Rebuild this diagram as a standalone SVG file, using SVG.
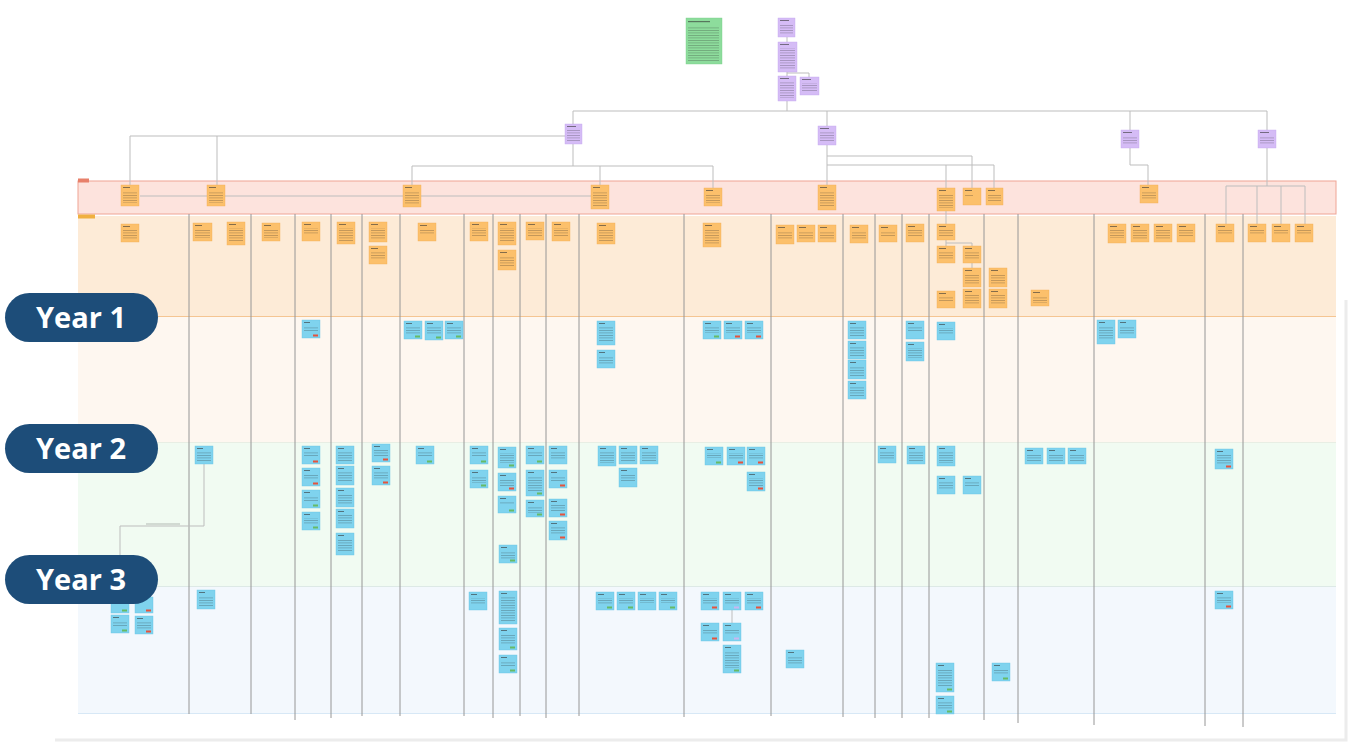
<svg xmlns="http://www.w3.org/2000/svg" width="1358" height="751" viewBox="0 0 1358 751">
<defs>
<pattern id="tx" width="20" height="2.5" patternUnits="userSpaceOnUse"><rect x="0" y="0" width="20" height="0.6" fill="#222" opacity="0.4"/></pattern>
<style>
.o{fill:#fcc06b;stroke:#f2ad55;stroke-width:0.4}
.p{fill:#d5bcf6;stroke:#c3a6ee;stroke-width:0.4}
.b{fill:#7fd3ee;stroke:#66c4e3;stroke-width:0.4}
.g{fill:#8ddc9c;stroke:#77cc88;stroke-width:0.4}
.t{fill:url(#tx)}
.h{fill:#333;opacity:.6}
.tr{fill:#e5533d}
.tg{fill:#66bb66}
.c{fill:none;stroke:#bdbdbd;stroke-width:1}
.v{stroke:#969696;stroke-width:1}
.pill{fill:#1d4d79}
.yt{font-family:"Open Sans","Liberation Sans",sans-serif;font-weight:700;font-size:29px;fill:#fff;text-anchor:middle}
</style>
</defs>
<rect width="1358" height="751" fill="#fff"/>
<path d="M55 740 H1346 V300" fill="none" stroke="#ececec" stroke-width="3"/>
<g id="bands">
<rect x="78" y="181" width="1258" height="33" fill="#fde3dd" stroke="#efa494" stroke-width="1"/>
<rect x="78" y="178.5" width="11" height="4" fill="#e8806a"/>
<rect x="78" y="216" width="1258" height="100" fill="#fdebd7"/>
<rect x="78" y="214.5" width="17" height="4" fill="#f0b040"/>
<line x1="78" y1="316.5" x2="1336" y2="316.5" stroke="#f5c592" stroke-width="1"/>
<rect x="78" y="317" width="1258" height="125" fill="#fef7f0"/>
<rect x="78" y="442" width="1258" height="144" fill="#f1fbf2"/>
<line x1="78" y1="442.5" x2="1336" y2="442.5" stroke="#e8eee4" stroke-width="1"/>
<rect x="78" y="586" width="1258" height="127" fill="#f3f8fd"/>
<line x1="78" y1="586.5" x2="1336" y2="586.5" stroke="#dde9e6" stroke-width="1"/>
<line x1="78" y1="713.5" x2="1336" y2="713.5" stroke="#d7e8f6" stroke-width="1"/>
</g>
<g id="columns">
<line class="v" x1="189" y1="214" x2="189" y2="714"/>
<line class="v" x1="251" y1="214" x2="251" y2="714"/>
<line class="v" x1="295" y1="214" x2="295" y2="720"/>
<line class="v" x1="331" y1="214" x2="331" y2="718"/>
<line class="v" x1="362" y1="214" x2="362" y2="716"/>
<line class="v" x1="400" y1="214" x2="400" y2="716"/>
<line class="v" x1="464" y1="214" x2="464" y2="716"/>
<line class="v" x1="493" y1="214" x2="493" y2="718"/>
<line class="v" x1="520" y1="214" x2="520" y2="716"/>
<line class="v" x1="546" y1="214" x2="546" y2="718"/>
<line class="v" x1="579" y1="214" x2="579" y2="716"/>
<line class="v" x1="684" y1="214" x2="684" y2="717"/>
<line class="v" x1="771" y1="214" x2="771" y2="716"/>
<line class="v" x1="843" y1="214" x2="843" y2="717"/>
<line class="v" x1="875" y1="214" x2="875" y2="718"/>
<line class="v" x1="902" y1="214" x2="902" y2="718"/>
<line class="v" x1="929" y1="214" x2="929" y2="718"/>
<line class="v" x1="984" y1="214" x2="984" y2="720"/>
<line class="v" x1="1018" y1="214" x2="1018" y2="723"/>
<line class="v" x1="1094" y1="214" x2="1094" y2="725"/>
<line class="v" x1="1205" y1="214" x2="1205" y2="726"/>
<line class="v" x1="1243" y1="214" x2="1243" y2="727"/>
</g>
<g id="connectors">
<path class="c" d="M787 37 V42 M787 72 V76 M787 73 H809 V77 M787 101 V111"/>
<path class="c" d="M573 124 V111 H1267 V130 M827 111 V126 M1130 111 V130"/>
<path class="c" d="M565 136 H130 V186 M217 136 V186"/>
<path class="c" d="M573 144 V166 H713 V188 M600 166 V185 M573 166 H412 V186"/>
<path class="c" d="M140 196 H592"/>
<path class="c" d="M827 145 V185 M827 156 H972 V188 M827 165 H994 V188 M946 165 V188"/>
<path class="c" d="M1130 148 V165 H1148 V185"/>
<path class="c" d="M1267 148 V186 M1226 224 V186 H1305 V224 M1257 186 V224 M1281 186 V224"/>
<path class="c" d="M946 211 V224 M946 240 V246 M946 243 H972 V246 M972 263 V268"/>
<path class="c" d="M204 464 V526 H120 V560"/>
<rect x="146" y="523.5" width="34" height="1" fill="#777" opacity=".5"/>
<path class="c" d="M732 610 V623"/>
</g>
<g id="top">
<g id="green1"><rect class="g" x="686" y="18" width="36" height="46"/><rect class="h" x="688" y="21" width="22" height="1.2"/><rect class="t" x="688" y="26" width="31" height="35"/></g>
<g id="pu1"><rect class="p" x="778" y="18" width="17" height="19"/><rect class="h" x="780" y="20" width="9" height="1"/><rect class="t" x="780" y="24" width="13" height="10"/></g>
<g id="pu2"><rect class="p" x="778" y="42" width="19" height="30"/><rect class="h" x="780" y="44" width="9" height="1"/><rect class="t" x="780" y="48" width="15" height="21"/></g>
<g id="pu3"><rect class="p" x="778" y="76" width="18" height="25"/><rect class="h" x="780" y="78" width="9" height="1"/><rect class="t" x="780" y="82" width="14" height="16"/></g>
<g id="pu4"><rect class="p" x="800" y="77" width="19" height="18"/><rect class="h" x="802" y="79" width="9" height="1"/><rect class="t" x="802" y="83" width="15" height="8"/></g>
<g id="pu5"><rect class="p" x="565" y="124" width="17" height="20"/><rect class="h" x="567" y="126" width="9" height="1"/><rect class="t" x="567" y="130" width="13" height="11"/></g>
<g id="pu6"><rect class="p" x="818" y="126" width="18" height="19"/><rect class="h" x="820" y="128" width="9" height="1"/><rect class="t" x="820" y="132" width="14" height="10"/></g>
<g id="pu7"><rect class="p" x="1121" y="130" width="18" height="18"/><rect class="h" x="1123" y="132" width="9" height="1"/><rect class="t" x="1123" y="136" width="14" height="9"/></g>
<g id="pu8"><rect class="p" x="1258" y="130" width="18" height="18"/><rect class="h" x="1260" y="132" width="9" height="1"/><rect class="t" x="1260" y="136" width="14" height="9"/></g>
</g>
<g id="goals">
<g id="r1"><rect class="o" x="121" y="185" width="18" height="21"/><rect class="h" x="123" y="187" width="7" height="1"/><rect class="t" x="123" y="191" width="14" height="12"/></g>
<g id="r2"><rect class="o" x="207" y="185" width="18" height="21"/><rect class="h" x="209" y="187" width="7" height="1"/><rect class="t" x="209" y="191" width="14" height="12"/></g>
<g id="r3"><rect class="o" x="403" y="185" width="18" height="22"/><rect class="h" x="405" y="187" width="7" height="1"/><rect class="t" x="405" y="191" width="14" height="13"/></g>
<g id="r4"><rect class="o" x="591" y="185" width="18" height="24"/><rect class="h" x="593" y="187" width="7" height="1"/><rect class="t" x="593" y="191" width="14" height="15"/></g>
<g id="r5"><rect class="o" x="704" y="188" width="18" height="18"/><rect class="h" x="706" y="190" width="7" height="1"/><rect class="t" x="706" y="194" width="14" height="9"/></g>
<g id="r6"><rect class="o" x="818" y="185" width="18" height="25"/><rect class="h" x="820" y="187" width="7" height="1"/><rect class="t" x="820" y="191" width="14" height="16"/></g>
<g id="r7"><rect class="o" x="937" y="188" width="18" height="23"/><rect class="h" x="939" y="190" width="7" height="1"/><rect class="t" x="939" y="194" width="14" height="14"/></g>
<g id="r8"><rect class="o" x="963" y="188" width="18" height="17"/><rect class="h" x="965" y="190" width="7" height="1"/><rect class="t" x="965" y="194" width="8" height="2"/></g>
<g id="r9"><rect class="o" x="986" y="188" width="17" height="17"/><rect class="h" x="988" y="190" width="7" height="1"/><rect class="t" x="988" y="194" width="13" height="7"/></g>
<g id="r10"><rect class="o" x="1140" y="185" width="18" height="18"/><rect class="h" x="1142" y="187" width="7" height="1"/><rect class="t" x="1142" y="191" width="14" height="9"/></g>
</g>
<g id="objectives">
<g id="a1"><rect class="o" x="121" y="224" width="18" height="18"/><rect class="h" x="123" y="226" width="7" height="1"/><rect class="t" x="123" y="230" width="14" height="9"/></g>
<g id="a2"><rect class="o" x="193" y="223" width="19" height="18"/><rect class="h" x="195" y="225" width="7" height="1"/><rect class="t" x="195" y="229" width="15" height="9"/></g>
<g id="a3"><rect class="o" x="227" y="222" width="18" height="23"/><rect class="h" x="229" y="224" width="7" height="1"/><rect class="t" x="229" y="228" width="14" height="14"/></g>
<g id="a4"><rect class="o" x="262" y="223" width="18" height="18"/><rect class="h" x="264" y="225" width="7" height="1"/><rect class="t" x="264" y="229" width="14" height="9"/></g>
<g id="a5"><rect class="o" x="302" y="222" width="18" height="19"/><rect class="h" x="304" y="224" width="7" height="1"/><rect class="t" x="304" y="228" width="14" height="6"/></g>
<g id="a6"><rect class="o" x="337" y="222" width="18" height="22"/><rect class="h" x="339" y="224" width="7" height="1"/><rect class="t" x="339" y="228" width="14" height="13"/></g>
<g id="a7"><rect class="o" x="369" y="222" width="18" height="20"/><rect class="h" x="371" y="224" width="7" height="1"/><rect class="t" x="371" y="228" width="14" height="11"/></g>
<g id="a8"><rect class="o" x="369" y="246" width="18" height="18"/><rect class="h" x="371" y="248" width="7" height="1"/><rect class="t" x="371" y="252" width="14" height="8"/></g>
<g id="a9"><rect class="o" x="418" y="223" width="18" height="18"/><rect class="h" x="420" y="225" width="7" height="1"/><rect class="t" x="420" y="229" width="14" height="6"/></g>
<g id="a10"><rect class="o" x="470" y="222" width="18" height="19"/><rect class="h" x="472" y="224" width="7" height="1"/><rect class="t" x="472" y="228" width="14" height="8"/></g>
<g id="a11"><rect class="o" x="498" y="222" width="18" height="23"/><rect class="h" x="500" y="224" width="7" height="1"/><rect class="t" x="500" y="228" width="14" height="14"/></g>
<g id="a12"><rect class="o" x="498" y="250" width="18" height="20"/><rect class="h" x="500" y="252" width="7" height="1"/><rect class="t" x="500" y="256" width="14" height="10"/></g>
<g id="a13"><rect class="o" x="526" y="222" width="18" height="18"/><rect class="h" x="528" y="224" width="7" height="1"/><rect class="t" x="528" y="228" width="14" height="9"/></g>
<g id="a14"><rect class="o" x="552" y="222" width="18" height="19"/><rect class="h" x="554" y="224" width="7" height="1"/><rect class="t" x="554" y="228" width="14" height="9"/></g>
<g id="a15"><rect class="o" x="597" y="223" width="18" height="21"/><rect class="h" x="599" y="225" width="7" height="1"/><rect class="t" x="599" y="229" width="14" height="12"/></g>
<g id="a16"><rect class="o" x="703" y="223" width="18" height="24"/><rect class="h" x="705" y="225" width="7" height="1"/><rect class="t" x="705" y="229" width="14" height="15"/></g>
<g id="a17"><rect class="o" x="776" y="225" width="18" height="19"/><rect class="h" x="778" y="227" width="7" height="1"/><rect class="t" x="778" y="231" width="14" height="8"/></g>
<g id="a18"><rect class="o" x="797" y="225" width="18" height="17"/><rect class="h" x="799" y="227" width="7" height="1"/><rect class="t" x="799" y="231" width="14" height="8"/></g>
<g id="a19"><rect class="o" x="818" y="225" width="18" height="17"/><rect class="h" x="820" y="227" width="7" height="1"/><rect class="t" x="820" y="231" width="14" height="8"/></g>
<g id="a20"><rect class="o" x="850" y="225" width="18" height="18"/><rect class="h" x="852" y="227" width="7" height="1"/><rect class="t" x="852" y="231" width="14" height="9"/></g>
<g id="a21"><rect class="o" x="879" y="225" width="18" height="17"/><rect class="h" x="881" y="227" width="7" height="1"/><rect class="t" x="881" y="231" width="14" height="6"/></g>
<g id="a22"><rect class="o" x="906" y="224" width="18" height="18"/><rect class="h" x="908" y="226" width="7" height="1"/><rect class="t" x="908" y="230" width="14" height="6"/></g>
<g id="a23"><rect class="o" x="937" y="224" width="18" height="16"/><rect class="h" x="939" y="226" width="7" height="1"/><rect class="t" x="939" y="230" width="14" height="7"/></g>
<g id="a24"><rect class="o" x="937" y="246" width="18" height="17"/><rect class="h" x="939" y="248" width="7" height="1"/><rect class="t" x="939" y="252" width="14" height="8"/></g>
<g id="a25"><rect class="o" x="963" y="246" width="18" height="17"/><rect class="h" x="965" y="248" width="7" height="1"/><rect class="t" x="965" y="252" width="14" height="8"/></g>
<g id="a26"><rect class="o" x="963" y="268" width="18" height="19"/><rect class="h" x="965" y="270" width="7" height="1"/><rect class="t" x="965" y="274" width="14" height="10"/></g>
<g id="a27"><rect class="o" x="989" y="268" width="18" height="19"/><rect class="h" x="991" y="270" width="7" height="1"/><rect class="t" x="991" y="274" width="14" height="10"/></g>
<g id="a28"><rect class="o" x="937" y="291" width="18" height="17"/><rect class="h" x="939" y="293" width="7" height="1"/><rect class="t" x="939" y="297" width="14" height="5"/></g>
<g id="a29"><rect class="o" x="963" y="289" width="18" height="19"/><rect class="h" x="965" y="291" width="7" height="1"/><rect class="t" x="965" y="295" width="14" height="10"/></g>
<g id="a30"><rect class="o" x="989" y="289" width="18" height="19"/><rect class="h" x="991" y="291" width="7" height="1"/><rect class="t" x="991" y="295" width="14" height="10"/></g>
<g id="a31"><rect class="o" x="1031" y="290" width="18" height="16"/><rect class="h" x="1033" y="292" width="7" height="1"/><rect class="t" x="1033" y="296" width="14" height="7"/></g>
<g id="a32"><rect class="o" x="1108" y="224" width="18" height="19"/><rect class="h" x="1110" y="226" width="7" height="1"/><rect class="t" x="1110" y="230" width="14" height="8"/></g>
<g id="a33"><rect class="o" x="1131" y="224" width="18" height="18"/><rect class="h" x="1133" y="226" width="7" height="1"/><rect class="t" x="1133" y="230" width="14" height="9"/></g>
<g id="a34"><rect class="o" x="1154" y="224" width="18" height="18"/><rect class="h" x="1156" y="226" width="7" height="1"/><rect class="t" x="1156" y="230" width="14" height="9"/></g>
<g id="a35"><rect class="o" x="1177" y="224" width="18" height="18"/><rect class="h" x="1179" y="226" width="7" height="1"/><rect class="t" x="1179" y="230" width="14" height="7"/></g>
<g id="a36"><rect class="o" x="1216" y="224" width="18" height="18"/><rect class="h" x="1218" y="226" width="7" height="1"/><rect class="t" x="1218" y="230" width="14" height="5"/></g>
<g id="a37"><rect class="o" x="1248" y="224" width="18" height="18"/><rect class="h" x="1250" y="226" width="7" height="1"/><rect class="t" x="1250" y="230" width="14" height="5"/></g>
<g id="a38"><rect class="o" x="1272" y="224" width="18" height="18"/><rect class="h" x="1274" y="226" width="7" height="1"/><rect class="t" x="1274" y="230" width="14" height="5"/></g>
<g id="a39"><rect class="o" x="1295" y="224" width="18" height="18"/><rect class="h" x="1297" y="226" width="7" height="1"/><rect class="t" x="1297" y="230" width="14" height="5"/></g>
</g>
<g id="year1">
<g id="b1"><rect class="b" x="302" y="320" width="18" height="18"/><rect class="h" x="304" y="322" width="6" height="1"/><rect class="t" x="304" y="326" width="14" height="6"/><rect class="tr" x="313" y="334.5" width="5" height="2"/></g>
<g id="b2"><rect class="b" x="404" y="321" width="18" height="18"/><rect class="h" x="406" y="323" width="6" height="1"/><rect class="t" x="406" y="327" width="14" height="7"/><rect class="tg" x="415" y="335.5" width="5" height="2"/></g>
<g id="b3"><rect class="b" x="425" y="321" width="18" height="19"/><rect class="h" x="427" y="323" width="6" height="1"/><rect class="t" x="427" y="327" width="14" height="8"/><rect class="tg" x="436" y="336.5" width="5" height="2"/></g>
<g id="b4"><rect class="b" x="445" y="321" width="18" height="18"/><rect class="h" x="447" y="323" width="6" height="1"/><rect class="t" x="447" y="327" width="14" height="7"/><rect class="tg" x="456" y="335.5" width="5" height="2"/></g>
<g id="b5"><rect class="b" x="597" y="321" width="18" height="24"/><rect class="h" x="599" y="323" width="6" height="1"/><rect class="t" x="599" y="327" width="14" height="14"/></g>
<g id="b6"><rect class="b" x="597" y="350" width="18" height="18"/><rect class="h" x="599" y="352" width="6" height="1"/><rect class="t" x="599" y="356" width="14" height="8"/></g>
<g id="b7"><rect class="b" x="703" y="321" width="18" height="18"/><rect class="h" x="705" y="323" width="6" height="1"/><rect class="t" x="705" y="327" width="14" height="6"/><rect class="tg" x="714" y="335.5" width="5" height="2"/></g>
<g id="b8"><rect class="b" x="724" y="321" width="18" height="18"/><rect class="h" x="726" y="323" width="6" height="1"/><rect class="t" x="726" y="327" width="14" height="6"/><rect class="tr" x="735" y="335.5" width="5" height="2"/></g>
<g id="b9"><rect class="b" x="745" y="321" width="18" height="18"/><rect class="h" x="747" y="323" width="6" height="1"/><rect class="t" x="747" y="327" width="14" height="6"/><rect class="tr" x="756" y="335.5" width="5" height="2"/></g>
<g id="b10"><rect class="b" x="848" y="321" width="18" height="18"/><rect class="h" x="850" y="323" width="6" height="1"/><rect class="t" x="850" y="327" width="14" height="9"/></g>
<g id="b11"><rect class="b" x="848" y="341" width="18" height="18"/><rect class="h" x="850" y="343" width="6" height="1"/><rect class="t" x="850" y="347" width="14" height="9"/></g>
<g id="b12"><rect class="b" x="848" y="360" width="18" height="19"/><rect class="h" x="850" y="362" width="6" height="1"/><rect class="t" x="850" y="366" width="14" height="10"/></g>
<g id="b13"><rect class="b" x="848" y="381" width="18" height="18"/><rect class="h" x="850" y="383" width="6" height="1"/><rect class="t" x="850" y="387" width="14" height="9"/></g>
<g id="b14"><rect class="b" x="906" y="321" width="18" height="18"/><rect class="h" x="908" y="323" width="6" height="1"/><rect class="t" x="908" y="327" width="14" height="4"/></g>
<g id="b15"><rect class="b" x="906" y="342" width="18" height="19"/><rect class="h" x="908" y="344" width="6" height="1"/><rect class="t" x="908" y="348" width="14" height="10"/></g>
<g id="b16"><rect class="b" x="937" y="322" width="18" height="18"/><rect class="h" x="939" y="324" width="6" height="1"/><rect class="t" x="939" y="328" width="14" height="6"/></g>
<g id="b17"><rect class="b" x="1097" y="320" width="18" height="24"/><rect class="h" x="1099" y="322" width="6" height="1"/><rect class="t" x="1099" y="326" width="14" height="14"/></g>
<g id="b18"><rect class="b" x="1118" y="320" width="18" height="18"/><rect class="h" x="1120" y="322" width="6" height="1"/><rect class="t" x="1120" y="326" width="14" height="8"/></g>
</g>
<g id="year2">
<g id="c1"><rect class="b" x="195" y="446" width="18" height="18"/><rect class="h" x="197" y="448" width="6" height="1"/><rect class="t" x="197" y="452" width="14" height="9"/></g>
<g id="c2"><rect class="b" x="302" y="446" width="18" height="18"/><rect class="h" x="304" y="448" width="6" height="1"/><rect class="t" x="304" y="452" width="14" height="5"/><rect class="tr" x="313" y="460.5" width="5" height="2"/></g>
<g id="c3"><rect class="b" x="302" y="468" width="18" height="18"/><rect class="h" x="304" y="470" width="6" height="1"/><rect class="t" x="304" y="474" width="14" height="5"/><rect class="tr" x="313" y="482.5" width="5" height="2"/></g>
<g id="c4"><rect class="b" x="302" y="490" width="18" height="18"/><rect class="h" x="304" y="492" width="6" height="1"/><rect class="t" x="304" y="496" width="14" height="6"/><rect class="tg" x="313" y="504.5" width="5" height="2"/></g>
<g id="c5"><rect class="b" x="302" y="512" width="18" height="18"/><rect class="h" x="304" y="514" width="6" height="1"/><rect class="t" x="304" y="518" width="14" height="7"/><rect class="tg" x="313" y="526.5" width="5" height="2"/></g>
<g id="c6"><rect class="b" x="336" y="446" width="18" height="18"/><rect class="h" x="338" y="448" width="6" height="1"/><rect class="t" x="338" y="452" width="14" height="9"/></g>
<g id="c7"><rect class="b" x="336" y="466" width="18" height="19"/><rect class="h" x="338" y="468" width="6" height="1"/><rect class="t" x="338" y="472" width="14" height="10"/></g>
<g id="c8"><rect class="b" x="336" y="488" width="18" height="19"/><rect class="h" x="338" y="490" width="6" height="1"/><rect class="t" x="338" y="494" width="14" height="10"/></g>
<g id="c9"><rect class="b" x="336" y="509" width="18" height="19"/><rect class="h" x="338" y="511" width="6" height="1"/><rect class="t" x="338" y="515" width="14" height="10"/></g>
<g id="c10"><rect class="b" x="336" y="533" width="18" height="22"/><rect class="h" x="338" y="535" width="6" height="1"/><rect class="t" x="338" y="539" width="14" height="13"/></g>
<g id="c11"><rect class="b" x="372" y="444" width="18" height="18"/><rect class="h" x="374" y="446" width="6" height="1"/><rect class="t" x="374" y="450" width="14" height="6"/><rect class="tr" x="383" y="458.5" width="5" height="2"/></g>
<g id="c12"><rect class="b" x="372" y="466" width="18" height="19"/><rect class="h" x="374" y="468" width="6" height="1"/><rect class="t" x="374" y="472" width="14" height="8"/><rect class="tr" x="383" y="481.5" width="5" height="2"/></g>
<g id="c13"><rect class="b" x="416" y="446" width="18" height="18"/><rect class="h" x="418" y="448" width="6" height="1"/><rect class="t" x="418" y="452" width="14" height="4"/><rect class="tg" x="427" y="460.5" width="5" height="2"/></g>
<g id="c14"><rect class="b" x="470" y="446" width="18" height="18"/><rect class="h" x="472" y="448" width="6" height="1"/><rect class="t" x="472" y="452" width="14" height="5"/><rect class="tg" x="481" y="460.5" width="5" height="2"/></g>
<g id="c15"><rect class="b" x="470" y="470" width="18" height="18"/><rect class="h" x="472" y="472" width="6" height="1"/><rect class="t" x="472" y="476" width="14" height="7"/><rect class="tg" x="481" y="484.5" width="5" height="2"/></g>
<g id="c16"><rect class="b" x="498" y="447" width="18" height="21"/><rect class="h" x="500" y="449" width="6" height="1"/><rect class="t" x="500" y="453" width="14" height="10"/><rect class="tg" x="509" y="464.5" width="5" height="2"/></g>
<g id="c17"><rect class="b" x="498" y="473" width="18" height="18"/><rect class="h" x="500" y="475" width="6" height="1"/><rect class="t" x="500" y="479" width="14" height="7"/><rect class="tr" x="509" y="487.5" width="5" height="2"/></g>
<g id="c18"><rect class="b" x="498" y="496" width="18" height="17"/><rect class="h" x="500" y="498" width="6" height="1"/><rect class="t" x="500" y="502" width="14" height="2"/><rect class="tg" x="509" y="509.5" width="5" height="2"/></g>
<g id="c19"><rect class="b" x="499" y="545" width="18" height="18"/><rect class="h" x="501" y="547" width="6" height="1"/><rect class="t" x="501" y="551" width="14" height="8"/><rect class="tg" x="510" y="559.5" width="5" height="2"/></g>
<g id="c20"><rect class="b" x="526" y="446" width="18" height="18"/><rect class="h" x="528" y="448" width="6" height="1"/><rect class="t" x="528" y="452" width="14" height="5"/><rect class="tg" x="537" y="460.5" width="5" height="2"/></g>
<g id="c21"><rect class="b" x="526" y="470" width="18" height="26"/><rect class="h" x="528" y="472" width="6" height="1"/><rect class="t" x="528" y="476" width="14" height="15"/><rect class="tg" x="537" y="492.5" width="5" height="2"/></g>
<g id="c22"><rect class="b" x="526" y="500" width="18" height="17"/><rect class="h" x="528" y="502" width="6" height="1"/><rect class="t" x="528" y="506" width="14" height="7"/><rect class="tg" x="537" y="513.5" width="5" height="2"/></g>
<g id="c23"><rect class="b" x="549" y="446" width="18" height="18"/><rect class="h" x="551" y="448" width="6" height="1"/><rect class="t" x="551" y="452" width="14" height="8"/></g>
<g id="c24"><rect class="b" x="549" y="470" width="18" height="18"/><rect class="h" x="551" y="472" width="6" height="1"/><rect class="t" x="551" y="476" width="14" height="6"/><rect class="tr" x="560" y="484.5" width="5" height="2"/></g>
<g id="c25"><rect class="b" x="549" y="499" width="18" height="18"/><rect class="h" x="551" y="501" width="6" height="1"/><rect class="t" x="551" y="505" width="14" height="6"/><rect class="tr" x="560" y="513.5" width="5" height="2"/></g>
<g id="c26"><rect class="b" x="549" y="521" width="18" height="19"/><rect class="h" x="551" y="523" width="6" height="1"/><rect class="t" x="551" y="527" width="14" height="8"/><rect class="tr" x="560" y="536.5" width="5" height="2"/></g>
<g id="c27"><rect class="b" x="598" y="446" width="18" height="20"/><rect class="h" x="600" y="448" width="6" height="1"/><rect class="t" x="600" y="452" width="14" height="11"/></g>
<g id="c28"><rect class="b" x="619" y="446" width="18" height="18"/><rect class="h" x="621" y="448" width="6" height="1"/><rect class="t" x="621" y="452" width="14" height="9"/></g>
<g id="c29"><rect class="b" x="619" y="468" width="18" height="19"/><rect class="h" x="621" y="470" width="6" height="1"/><rect class="t" x="621" y="474" width="14" height="8"/></g>
<g id="c30"><rect class="b" x="640" y="446" width="18" height="18"/><rect class="h" x="642" y="448" width="6" height="1"/><rect class="t" x="642" y="452" width="14" height="9"/></g>
<g id="c31"><rect class="b" x="705" y="447" width="18" height="18"/><rect class="h" x="707" y="449" width="6" height="1"/><rect class="t" x="707" y="453" width="14" height="5"/><rect class="tg" x="716" y="461.5" width="5" height="2"/></g>
<g id="c32"><rect class="b" x="727" y="447" width="18" height="18"/><rect class="h" x="729" y="449" width="6" height="1"/><rect class="t" x="729" y="453" width="14" height="6"/><rect class="tr" x="738" y="461.5" width="5" height="2"/></g>
<g id="c33"><rect class="b" x="747" y="447" width="18" height="18"/><rect class="h" x="749" y="449" width="6" height="1"/><rect class="t" x="749" y="453" width="14" height="6"/><rect class="tr" x="758" y="461.5" width="5" height="2"/></g>
<g id="c34"><rect class="b" x="747" y="472" width="18" height="19"/><rect class="h" x="749" y="474" width="6" height="1"/><rect class="t" x="749" y="478" width="14" height="8"/><rect class="tr" x="758" y="487.5" width="5" height="2"/></g>
<g id="c35"><rect class="b" x="878" y="446" width="18" height="17"/><rect class="h" x="880" y="448" width="6" height="1"/><rect class="t" x="880" y="452" width="14" height="7"/></g>
<g id="c36"><rect class="b" x="907" y="446" width="18" height="18"/><rect class="h" x="909" y="448" width="6" height="1"/><rect class="t" x="909" y="452" width="14" height="9"/></g>
<g id="c37"><rect class="b" x="937" y="446" width="18" height="20"/><rect class="h" x="939" y="448" width="6" height="1"/><rect class="t" x="939" y="452" width="14" height="11"/></g>
<g id="c38"><rect class="b" x="937" y="476" width="18" height="18"/><rect class="h" x="939" y="478" width="6" height="1"/><rect class="t" x="939" y="482" width="14" height="8"/></g>
<g id="c39"><rect class="b" x="963" y="476" width="18" height="18"/><rect class="h" x="965" y="478" width="6" height="1"/><rect class="t" x="965" y="482" width="14" height="4"/></g>
<g id="c40"><rect class="b" x="1025" y="448" width="18" height="16"/><rect class="h" x="1027" y="450" width="6" height="1"/><rect class="t" x="1027" y="454" width="14" height="7"/></g>
<g id="c41"><rect class="b" x="1047" y="448" width="18" height="16"/><rect class="h" x="1049" y="450" width="6" height="1"/><rect class="t" x="1049" y="454" width="14" height="8"/></g>
<g id="c42"><rect class="b" x="1068" y="448" width="18" height="16"/><rect class="h" x="1070" y="450" width="6" height="1"/><rect class="t" x="1070" y="454" width="14" height="8"/></g>
<g id="c43"><rect class="b" x="1215" y="449" width="18" height="20"/><rect class="h" x="1217" y="451" width="6" height="1"/><rect class="t" x="1217" y="455" width="14" height="9"/><rect class="tr" x="1226" y="465.5" width="5" height="2"/></g>
</g>
<g id="year3">
<g id="d1"><rect class="b" x="111" y="597" width="18" height="16"/><rect class="tg" x="122" y="609.5" width="5" height="2"/></g>
<g id="d2"><rect class="b" x="135" y="597" width="18" height="16"/><rect class="tr" x="146" y="609.5" width="5" height="2"/></g>
<g id="d3"><rect class="b" x="111" y="615" width="18" height="18"/><rect class="h" x="113" y="617" width="6" height="1"/><rect class="t" x="113" y="621" width="14" height="5"/><rect class="tg" x="122" y="629.5" width="5" height="2"/></g>
<g id="d4"><rect class="b" x="135" y="616" width="18" height="18"/><rect class="h" x="137" y="618" width="6" height="1"/><rect class="t" x="137" y="622" width="14" height="7"/><rect class="tr" x="146" y="630.5" width="5" height="2"/></g>
<g id="d5"><rect class="b" x="197" y="590" width="18" height="19"/><rect class="h" x="199" y="592" width="6" height="1"/><rect class="t" x="199" y="596" width="14" height="10"/></g>
<g id="d6"><rect class="b" x="469" y="592" width="18" height="18"/><rect class="h" x="471" y="594" width="6" height="1"/><rect class="t" x="471" y="598" width="14" height="7"/></g>
<g id="d7"><rect class="b" x="499" y="591" width="18" height="33"/><rect class="h" x="501" y="593" width="6" height="1"/><rect class="t" x="501" y="597" width="14" height="24"/></g>
<g id="d8"><rect class="b" x="499" y="628" width="18" height="22"/><rect class="h" x="501" y="630" width="6" height="1"/><rect class="t" x="501" y="634" width="14" height="11"/><rect class="tg" x="510" y="646.5" width="5" height="2"/></g>
<g id="d9"><rect class="b" x="499" y="655" width="18" height="18"/><rect class="h" x="501" y="657" width="6" height="1"/><rect class="t" x="501" y="661" width="14" height="5"/><rect class="tg" x="510" y="669.5" width="5" height="2"/></g>
<g id="d10"><rect class="b" x="596" y="592" width="18" height="18"/><rect class="h" x="598" y="594" width="6" height="1"/><rect class="t" x="598" y="598" width="14" height="7"/><rect class="tg" x="607" y="606.5" width="5" height="2"/></g>
<g id="d11"><rect class="b" x="617" y="592" width="18" height="18"/><rect class="h" x="619" y="594" width="6" height="1"/><rect class="t" x="619" y="598" width="14" height="7"/><rect class="tg" x="628" y="606.5" width="5" height="2"/></g>
<g id="d12"><rect class="b" x="638" y="592" width="18" height="18"/><rect class="h" x="640" y="594" width="6" height="1"/><rect class="t" x="640" y="598" width="14" height="5"/></g>
<g id="d13"><rect class="b" x="659" y="592" width="18" height="18"/><rect class="h" x="661" y="594" width="6" height="1"/><rect class="t" x="661" y="598" width="14" height="5"/><rect class="tg" x="670" y="606.5" width="5" height="2"/></g>
<g id="d14"><rect class="b" x="701" y="592" width="18" height="18"/><rect class="h" x="703" y="594" width="6" height="1"/><rect class="t" x="703" y="598" width="14" height="7"/><rect class="tr" x="712" y="606.5" width="5" height="2"/></g>
<g id="d15"><rect class="b" x="723" y="592" width="18" height="18"/><rect class="h" x="725" y="594" width="6" height="1"/><rect class="t" x="725" y="598" width="14" height="7"/><rect fill="#c9b6f0" x="734" y="606.5" width="5" height="2"/></g>
<g id="d16"><rect class="b" x="745" y="592" width="18" height="18"/><rect class="h" x="747" y="594" width="6" height="1"/><rect class="t" x="747" y="598" width="14" height="7"/><rect class="tr" x="756" y="606.5" width="5" height="2"/></g>
<g id="d17"><rect class="b" x="701" y="623" width="18" height="18"/><rect class="h" x="703" y="625" width="6" height="1"/><rect class="t" x="703" y="629" width="14" height="5"/><rect class="tr" x="712" y="637.5" width="5" height="2"/></g>
<g id="d18"><rect class="b" x="723" y="623" width="18" height="18"/><rect class="h" x="725" y="625" width="6" height="1"/><rect class="t" x="725" y="629" width="14" height="5"/><rect fill="#c9b6f0" x="734" y="637.5" width="5" height="2"/></g>
<g id="d19"><rect class="b" x="723" y="645" width="18" height="28"/><rect class="h" x="725" y="647" width="6" height="1"/><rect class="t" x="725" y="651" width="14" height="17"/><rect class="tg" x="734" y="669.5" width="5" height="2"/></g>
<g id="d20"><rect class="b" x="786" y="650" width="18" height="18"/><rect class="h" x="788" y="652" width="6" height="1"/><rect class="t" x="788" y="656" width="14" height="8"/></g>
<g id="d21"><rect class="b" x="936" y="663" width="18" height="29"/><rect class="h" x="938" y="665" width="6" height="1"/><rect class="t" x="938" y="669" width="14" height="18"/><rect class="tg" x="947" y="688.5" width="5" height="2"/></g>
<g id="d22"><rect class="b" x="936" y="696" width="18" height="18"/><rect class="h" x="938" y="698" width="6" height="1"/><rect class="t" x="938" y="702" width="14" height="7"/><rect class="tg" x="947" y="710.5" width="5" height="2"/></g>
<g id="d23"><rect class="b" x="992" y="663" width="18" height="18"/><rect class="h" x="994" y="665" width="6" height="1"/><rect class="t" x="994" y="669" width="14" height="5"/><rect class="tg" x="1003" y="677.5" width="5" height="2"/></g>
<g id="d24"><rect class="b" x="1215" y="591" width="18" height="18"/><rect class="h" x="1217" y="593" width="6" height="1"/><rect class="t" x="1217" y="597" width="14" height="6"/><rect class="tr" x="1226" y="605.5" width="5" height="2"/></g>
</g>
<g id="pill1"><rect class="pill" x="5" y="293" width="153" height="49" rx="24.5"/><text class="yt" x="81" y="328">Year 1</text></g>
<g id="pill2"><rect class="pill" x="5" y="424" width="153" height="49" rx="24.5"/><text class="yt" x="81" y="459">Year 2</text></g>
<g id="pill3"><rect class="pill" x="5" y="555" width="153" height="49" rx="24.5"/><text class="yt" x="81" y="590">Year 3</text></g>
</svg>
